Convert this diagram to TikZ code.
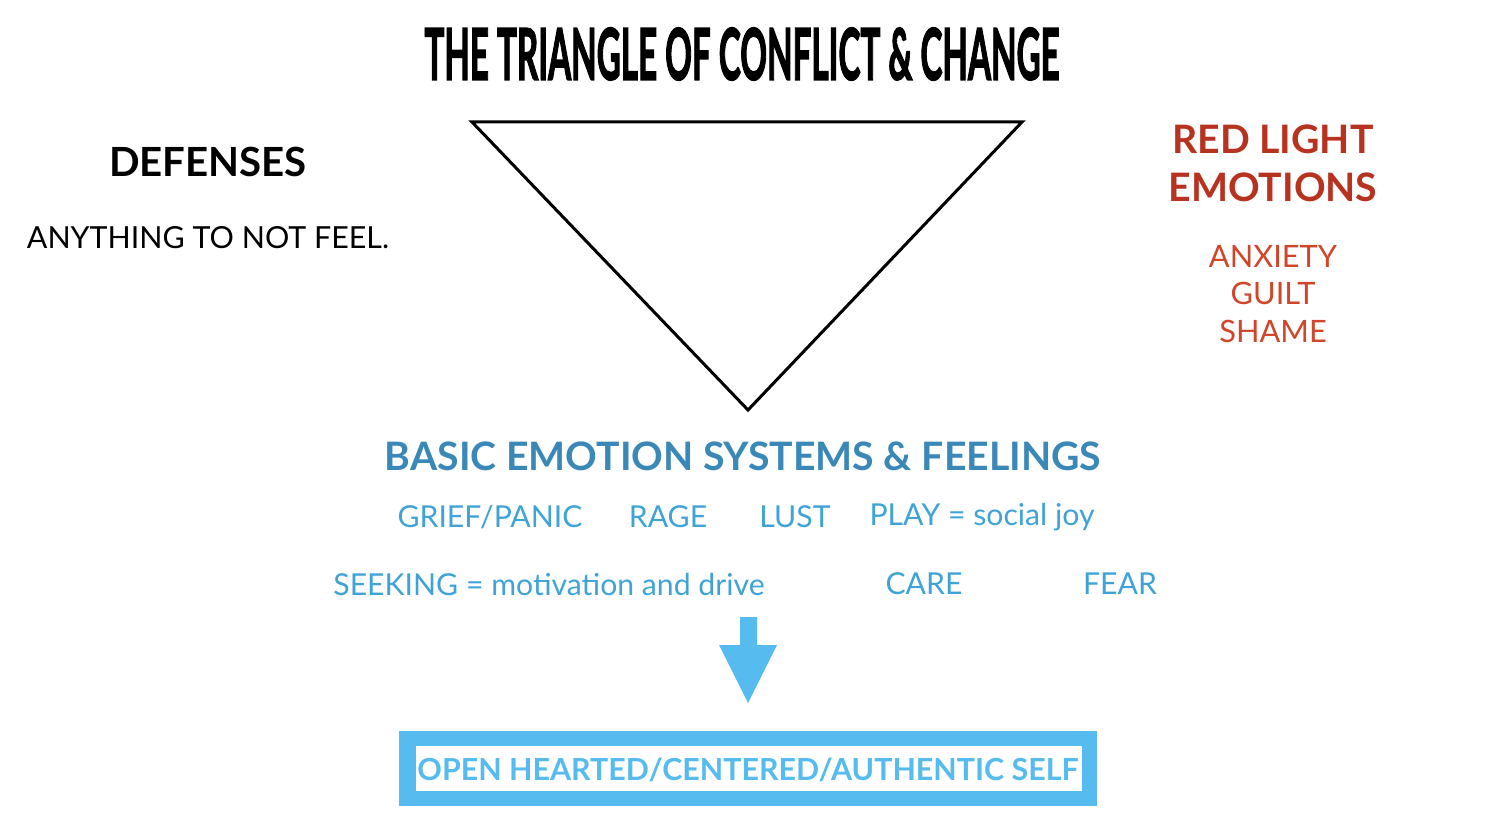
\documentclass[tikz,border=0pt]{standalone}
\usepackage{fontspec}
\setmainfont{Lato}
\newfontfamily\titlefont{Lato}[BoldFeatures={FakeBold=2.5}]
\usepackage{graphicx}
\definecolor{darkred}{HTML}{B83220}
\definecolor{lightred}{HTML}{D0462A}
\definecolor{headblue}{HTML}{3A88B8}
\definecolor{itemblue}{HTML}{3FA3D8}
\definecolor{boxblue}{HTML}{56BBEE}
\begin{document}
\begin{tikzpicture}[x=0.5pt,y=-0.5pt,
  lbl/.style={inner sep=0pt, anchor=center},
  headtxt/.style={lbl, font=\fontsize{19.6}{23}\selectfont\bfseries},
  bodytxt/.style={lbl, font=\fontsize{15.2}{20}\selectfont},
  itemtxt/.style={lbl, text=itemblue, font=\fontsize{15.1}{20}\selectfont},
  redtxt/.style={lbl, text=lightred, font=\fontsize{15.4}{20}\selectfont}]
\useasboundingbox (0,0) rectangle (1500,818);
% title
\node[lbl] (title) at (742,54) {\resizebox{317.5pt}{26pt}{\titlefont\bfseries THE TRIANGLE OF CONFLICT \& CHANGE}};
% triangle
\draw[line width=1.5pt, line join=miter] (472,122) -- (1022,122) -- (748,410) -- cycle;
% left
\node[headtxt, font=\fontsize{20.1}{23}\selectfont\bfseries] (def) at (208,162) {DEFENSES};
\node[bodytxt] (anything) at (208,238) {ANYTHING TO NOT FEEL.};
% right
\node[headtxt, text=darkred] (red) at (1273,139) {RED LIGHT};
\node[headtxt, text=darkred] (emo) at (1273,187) {EMOTIONS};
\node[redtxt] (anx) at (1273,256) {ANXIETY};
\node[redtxt] (guilt) at (1273,293) {GUILT};
\node[redtxt] (shame) at (1273,331) {SHAME};
% basic
\node[headtxt, text=headblue] (basic) at (743,456) {BASIC EMOTION SYSTEMS \& FEELINGS};
\node[itemtxt] (grief) at (490,517) {GRIEF/PANIC};
\node[itemtxt] (rage) at (668,517) {RAGE};
\node[itemtxt] (lust) at (795,517) {LUST};
\node[itemtxt] (play) at (982,517) {PLAY = social joy};
\node[itemtxt] (seek) at (549,584) {SEEKING = motivation and drive};
\node[itemtxt] (care) at (924,584) {CARE};
\node[itemtxt] (fear) at (1120,584) {FEAR};
% arrow
\fill[boxblue] (740,617) -- (757,617) -- (757,645) -- (777,645) -- (748,703) -- (719,645) -- (740,645) -- cycle;
% box
\fill[boxblue] (399,731) rectangle (1097,806);
\fill[white] (416,746) rectangle (1082,791);
\node[lbl, text=boxblue, font=\fontsize{15.2}{20}\selectfont\bfseries] (self) at (748,770) {OPEN HEARTED/CENTERED/AUTHENTIC SELF};
\end{tikzpicture}
\end{document}
